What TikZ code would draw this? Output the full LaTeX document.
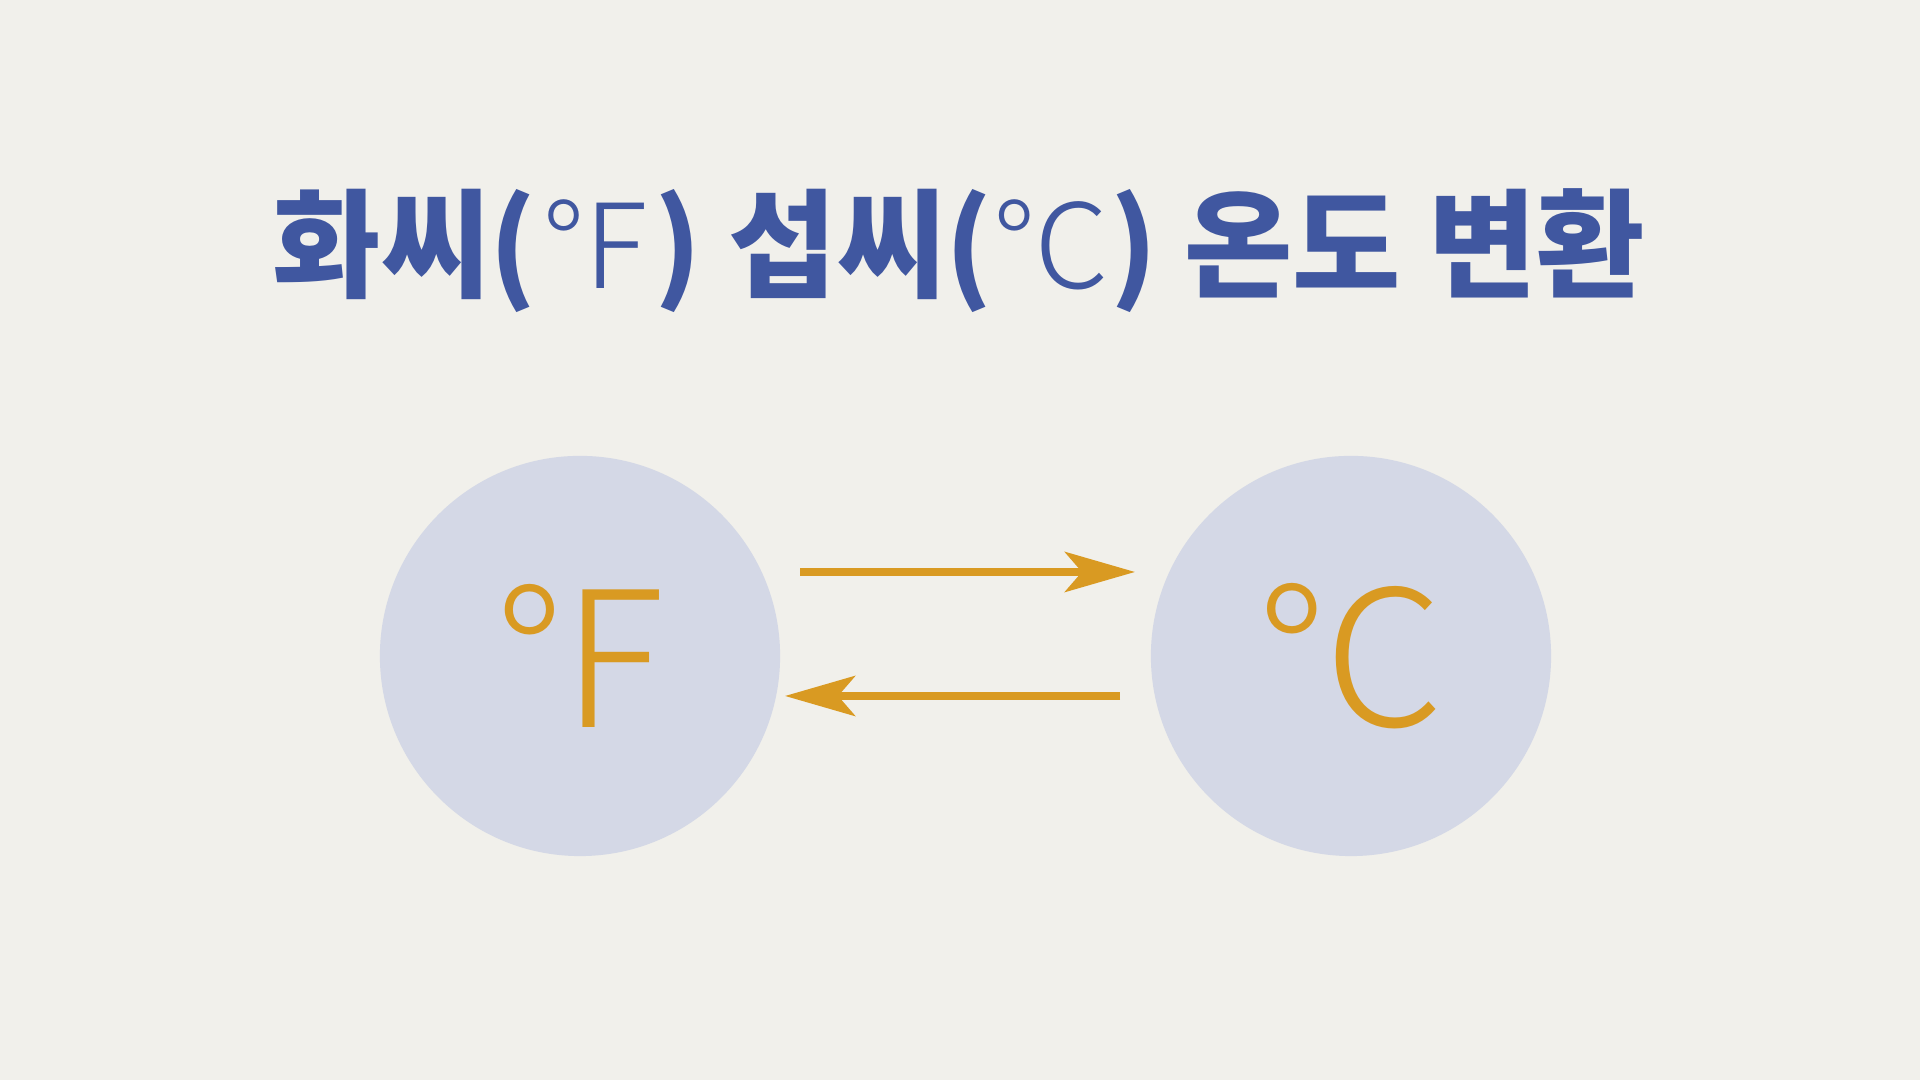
\documentclass[tikz,border=0pt]{standalone}
\usepackage{fontspec}
\usepackage{tikz}
\usetikzlibrary{positioning, arrows.meta, calc}
\newfontfamily\krlight{Noto Sans CJK KR Light}
\newfontfamily\krblack{Noto Sans CJK KR Black}
\definecolor{tempBg}{HTML}{F1F0EB}
\definecolor{tempBlue}{HTML}{4057A0}
\definecolor{tempCircle}{HTML}{D4D8E6}
\definecolor{tempOrange}{HTML}{D99A22}

\begin{document}
\begin{tikzpicture}[x=0.01cm, y=0.01cm,
    unit/.style={circle, fill=tempCircle, minimum size=4cm, inner sep=0pt,
      text=tempOrange, font=\krlight\fontsize{54}{54}\selectfont},
    convarrow/.style={draw=tempOrange, line width=0.08cm,
      -{Stealth[length=0.7cm, width=0.4cm, inset=0.17cm]}}]
        \fill[tempBg] (0,0) rectangle (1920,1080);
        \node[text=tempBlue, font=\krblack\fontsize{33.5}{34}\selectfont] (title) at (959,829)
          {화씨({\krlight ℉}) 섭씨({\krlight ℃}) 온도 변환};
        \node[unit] (fahr) at (580,424) {℉};
        \node[unit] (cels) at (1351,424) {℃};
        % 화씨 -> 섭씨, 섭씨 -> 화씨
        \coordinate (f2c-start) at ($(fahr.center)+(220,84)$);
        \coordinate (f2c-end) at ($(cels.center)+(-216,84)$);
        \coordinate (c2f-start) at ($(cels.center)+(-231,-40)$);
        \coordinate (c2f-end) at ($(fahr.center)+(205,-40)$);
        \draw[convarrow] (f2c-start) -- (f2c-end);
        \draw[convarrow] (c2f-start) -- (c2f-end);
      \end{tikzpicture}
\end{document}
